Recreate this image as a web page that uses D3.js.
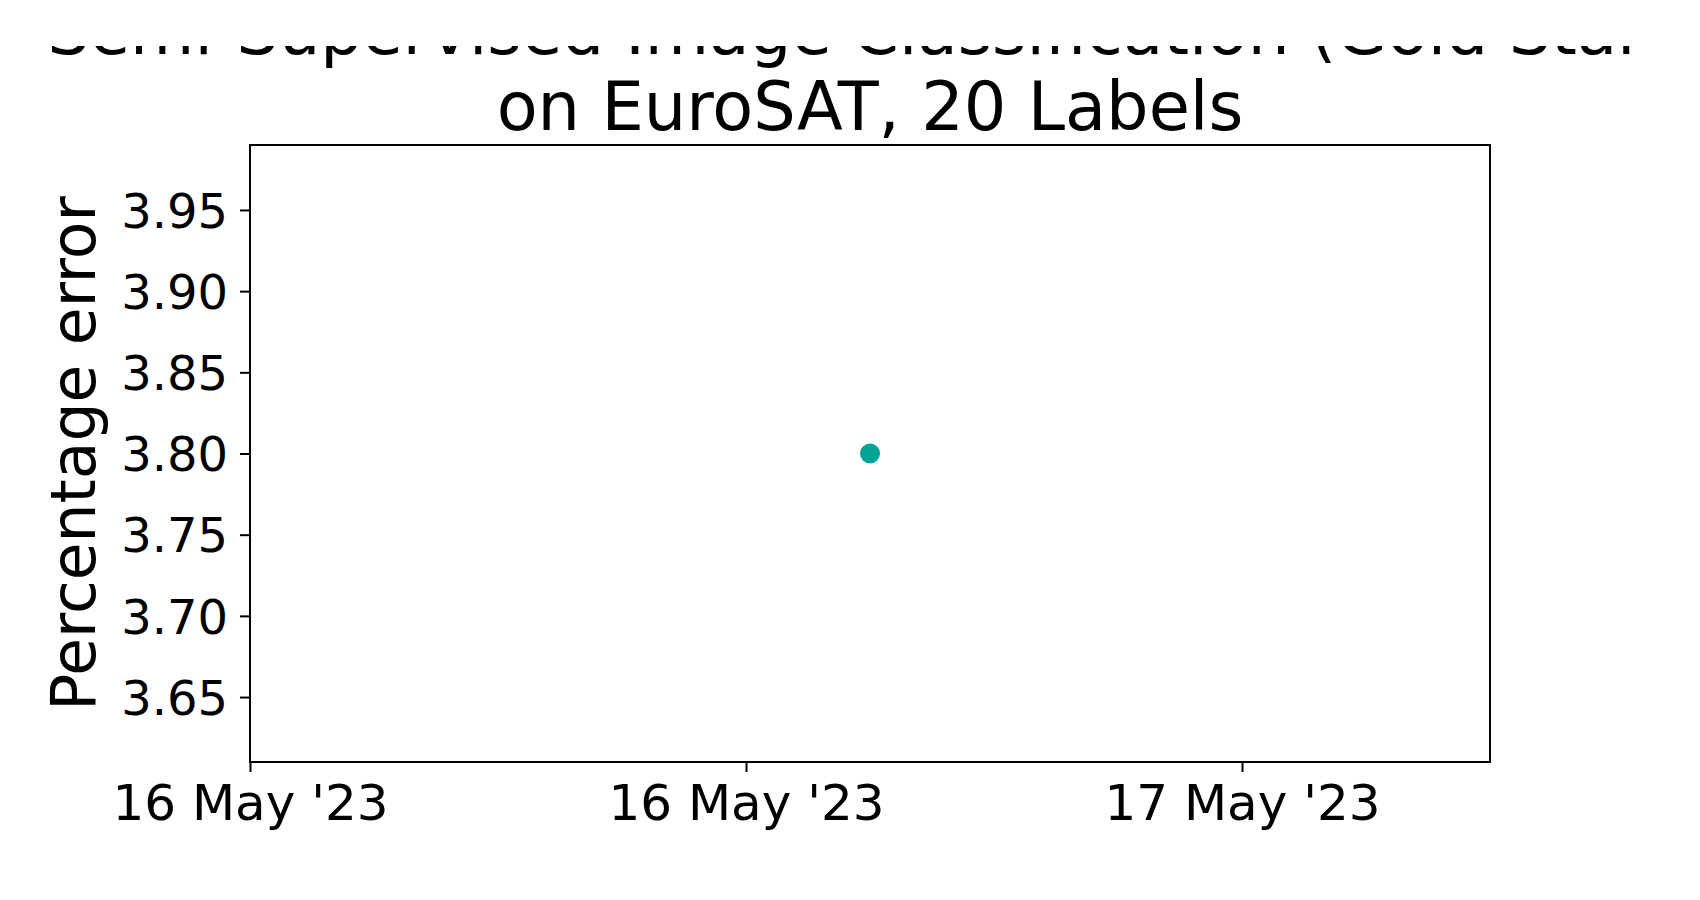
<!DOCTYPE html>
<html>
<head>
<meta charset="utf-8">
<script src="https://cdn.jsdelivr.net/npm/d3@7"></script>
<style>
  body { margin:0; background:#fff; }
  text { font-family: "DejaVu Sans", sans-serif; fill:#000; }
</style>
</head>
<body>
<svg id="chart" width="1700" height="900"></svg>
<script>
// data
var runDates  = ["2023-05-16T15:00:00Z"];
var errValues = [3.80];
var xTickDates = ["2023-05-16T00:00:00Z","2023-05-16T12:00:00Z","2023-05-17T00:00:00Z"];
var xRange    = ["2023-05-16T00:00:00Z","2023-05-17T06:00:00Z"];
var yTickVals = [3.65,3.70,3.75,3.80,3.85,3.90,3.95];
var yRange    = [3.61,3.99];
var titleLines = ["Semi-Supervised Image Classification (Gold Star","on EuroSAT, 20 Labels"];
var yLabel = "Percentage error";

var svg = d3.select("#chart");
var plotL=250, plotR=1490, plotT=145, plotB=762;

var x = d3.scaleUtc()
          .domain(xRange.map(function(d){ return new Date(d); }))
          .range([plotL,plotR]);
var y = d3.scaleLinear().domain(yRange).range([plotB,plotT]);

// title (first line is cut off at the top in the original)
svg.append("clipPath").attr("id","titleClip")
   .append("rect").attr("x",0).attr("y",46).attr("width",1700).attr("height",200);
var tg = svg.append("g").attr("clip-path","url(#titleClip)");
tg.append("text").attr("x",846).attr("y",54)
  .attr("text-anchor","middle").style("font-size","66px").text(titleLines[0]);
svg.append("text").attr("x",(plotL+plotR)/2).attr("y",130)
  .attr("text-anchor","middle").style("font-size","67px").text(titleLines[1]);

// axes
var yAxis = d3.axisLeft(y).tickValues(yTickVals).tickFormat(d3.format(".2f"))
              .tickSize(10).tickPadding(12);
var gy = svg.append("g").attr("transform","translate("+plotL+",0)").call(yAxis);

var xAxis = d3.axisBottom(x)
              .tickValues(xTickDates.map(function(d){ return new Date(d); }))
              .tickFormat(d3.utcFormat("%d %b '%y"))
              .tickSize(10).tickPadding(10);
var gx = svg.append("g").attr("transform","translate(0,"+plotB+")").call(xAxis);

[gx,gy].forEach(function(g) {
  g.select(".domain").remove();
  g.selectAll(".tick line").attr("stroke","#000").attr("stroke-width",2);
  g.selectAll(".tick text").style("font-size","50px")
   .style("font-family","'DejaVu Sans', sans-serif").attr("fill","#000");
});
gy.selectAll(".tick text").style("font-size","48px").attr("dy","0.36em");
gx.selectAll(".tick text").attr("dy","0.76em");

// frame
svg.append("rect").attr("x",plotL).attr("y",plotT)
   .attr("width",plotR-plotL).attr("height",plotB-plotT)
   .attr("fill","none").attr("stroke","#000").attr("stroke-width",2);

// y label
svg.append("text")
   .attr("transform","translate(95,"+((plotT+plotB)/2)+") rotate(-90)")
   .attr("text-anchor","middle").style("font-size","61.5px").text(yLabel);

// points
svg.selectAll("circle.pt").data(runDates).enter().append("circle")
   .attr("class","pt")
   .attr("cx",function(d){ return x(new Date(d)); })
   .attr("cy",function(d,i){ return y(errValues[i]); })
   .attr("r",10)
   .attr("fill","#00a396");
</script>
</body>
</html>
